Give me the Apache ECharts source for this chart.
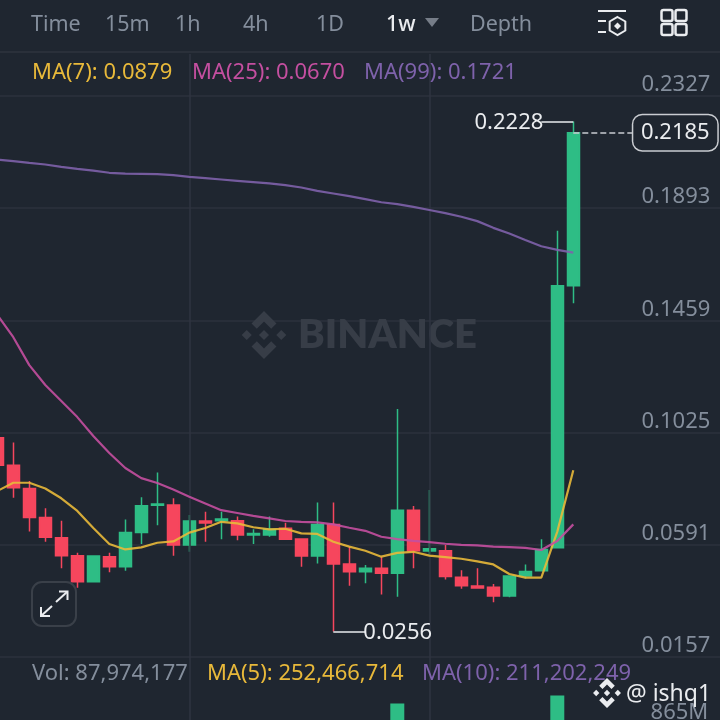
<!DOCTYPE html>
<html><head><meta charset="utf-8">
<style>html,body{margin:0;padding:0;background:#1f2630}#c{width:720px;height:720px}</style>
<script src="https://cdn.jsdelivr.net/npm/echarts@6/dist/echarts.min.js"></script>
</head><body><div id="c"></div>
<script>
const opens=[.1005,.0899,.0809,.0697,.0618,.0549,.0448,.0545,.0506,.0639,.0744,.0745,.0590,.0683,.0684,.0684,.0629,.0629,.0655,.0613,.0548,.0670,.0517,.0487,.0500,.0481,.0725,.0567,.0568,.0465,.0432,.0427,.0393,.0470,.0491,.0580,.1593];
const closes=[.0899,.0812,.0697,.0620,.0549,.0448,.0548,.0506,.0639,.0742,.0749,.0590,.0683,.0675,.0691,.0629,.0635,.0651,.0612,.0548,.0670,.0517,.0487,.0500,.0481,.0725,.0568,.0576,.0468,.0433,.0424,.0393,.0470,.0488,.0573,.1593,.2185];
const lows=[.0899,.0773,.0642,.0603,.0500,.0425,.0446,.0485,.0491,.0594,.0667,.0549,.0564,.0603,.0612,.0609,.0594,.0622,.0612,.0506,.0519,.0256,.0433,.0442,.0399,.0390,.0500,.0551,.0457,.0421,.0424,.0369,.0388,.0461,.0491,.0580,.1525];
const highs=[.1005,.0987,.0838,.0732,.0684,.0560,.0551,.0560,.0689,.0775,.0871,.0771,.0706,.0719,.0719,.0700,.0651,.0700,.0676,.0613,.0755,.0755,.0584,.0513,.0545,.1116,.0741,.0803,.0590,.0493,.0500,.0439,.0470,.0515,.0612,.1806,.2228];
const ma7=[.0799,.0831,.0831,.0809,.0771,.0722,.0656,.0594,.0573,.0581,.0599,.0604,.0638,.0656,.0680,.0674,.0659,.0651,.0653,.0635,.0633,.0603,.0584,.0568,.0545,.0560,.0564,.0549,.0543,.0537,.0527,.0515,.0478,.0464,.0464,.0642,.0879];
const ma25=[.1480,.1394,.1286,.1209,.1147,.1085,.1012,.0946,.0888,.0849,.0830,.0805,.0777,.0751,.0725,.0714,.0703,.0693,.0683,.0680,.0678,.0670,.0657,.0645,.0622,.0613,.0606,.0601,.0595,.0591,.0589,.0584,.0582,.0579,.0571,.0606,.0670];
const ma99=[.2081,.2075,.2068,.2062,.2053,.2045,.2038,.2030,.2027,.2026,.2025,.2021,.2014,.2009,.2004,.1999,.1994,.1989,.1982,.1973,.1960,.1950,.1940,.1928,.1916,.1909,.1898,.1886,.1874,.1860,.1843,.1817,.1795,.1770,.1746,.1732,.1721];
const volumes=[160,150,170,120,130,180,140,110,210,190,240,230,150,110,100,120,90,100,110,170,260,420,130,90,110,1045,340,180,200,110,90,130,170,120,160,1125,88];
const priceTicks=[.0157,.0591,.1025,.1459,.1893,.2327];
const volTicks=[865];
const categories=Array.from({length:46},(_,i)=>'W'+(i+1));
const lastPrice=.2185, highPrice=.2228, lowPrice=.0256;

const UP='#2ebd85',DOWN='#f6465d',BG='#1f2630',GRID='#2c323c',VLINE='#2f3540',GRAY='#848e9c',FONT='"Noto Sans"';
const YEL='#e8b93a',PINK='#c44fa0',PUR='#7e62ab',WHITE='#eaecef';
const LEFT=-10.7,WIDTH=736;

function txt(t,x,y,fill,size,extra){return Object.assign({type:'text',x,y,silent:true,z:50,style:{text:t,fill,font:(extra&&extra.weight||'400')+' '+size+'px '+FONT,textVerticalAlign:'middle',verticalAlign:'middle'}})}
function logo(cx,cy,s,color){
  const P=a=>({type:'polygon',silent:true,z:1,shape:{points:a.map(p=>[cx+p[0]*s,cy+p[1]*s])},style:{fill:color}});
  const d=(x,y,r)=>P([[x,y-r],[x+r,y],[x,y+r],[x-r,y]]);
  return [d(0,0,.21),d(-.72,0,.21),d(.72,0,.21),
    P([[-.52,-.48],[0,-1],[.52,-.48],[.3,-.26],[0,-.56],[-.3,-.26]]),
    P([[-.52,.48],[0,1],[.52,.48],[.3,.26],[0,.56],[-.3,.26]])];
}
const hex=(cx,cy,r)=>[[cx,cy-r],[cx+r*.87,cy-r/2],[cx+r*.87,cy+r/2],[cx,cy+r],[cx-r*.87,cy+r/2],[cx-r*.87,cy-r/2]];
const stroke=(c,w)=>({fill:null,stroke:c,lineWidth:w});
const ln=(x1,y1,x2,y2,c,w)=>({type:'line',silent:true,z:50,shape:{x1,y1,x2,y2},style:{stroke:c,lineWidth:w}});
const rr=(x,y,w,h,r,c,lw)=>({type:'rect',silent:true,z:50,shape:{x,y,width:w,height:h,r},style:stroke(c,lw)});

const graphics=[
  ln(0,52,720,52,'#2a303a',2),
  txt('Time',31,25,GRAY,21.5),txt('15m',105,25,GRAY,21.5),txt('1h',175,25,GRAY,21.5),txt('4h',243,25,GRAY,21.5),
  txt('1D',316,25,GRAY,21.5),txt('1w',386,25,WHITE,21.5,{weight:'500'}),txt('Depth',470,25,GRAY,21.5),
  {type:'polygon',silent:true,z:50,shape:{points:[[425,18],[439,18],[432,27]]},style:{fill:'#767d88'}},
  txt('MA(7): 0.0879',32,73,YEL,22),txt('MA(25): 0.0670',192,73,PINK,22),txt('MA(99): 0.1721',364,73,PUR,22),
  txt('Vol: 87,974,177',32,674,GRAY,22),txt('MA(5): 252,466,714',207,674,YEL,22),txt('MA(10): 211,202,249',422,674,PUR,22),
  ln(598,11,626,11,WHITE,2),ln(598,21,606,21,WHITE,2),ln(598,32,606,32,WHITE,2),
  {type:'polygon',silent:true,z:50,shape:{points:hex(617.5,26,9)},style:stroke(WHITE,2)},
  {type:'polygon',silent:true,z:50,shape:{points:[[617.5,22.5],[621,26],[617.5,29.5],[614,26]]},style:{fill:WHITE}},
  rr(661.5,10,11,11,2,WHITE,2.5),rr(675.5,10,11,11,2,WHITE,2.5),rr(661.5,24,11,11,2,WHITE,2.5),rr(675.5,24,11,11,2,WHITE,2.5),
  rr(32,582,44,44,10,'#3a4049',2),
  ln(56,602,67,592,WHITE,2),{type:'polyline',silent:true,z:50,shape:{points:[[59,591.5],[67.5,591.5],[67.5,600]]},style:stroke(WHITE,2)},
  ln(52,606,41,616,WHITE,2),{type:'polyline',silent:true,z:50,shape:{points:[[41,607],[41,616],[50,616]]},style:stroke(WHITE,2)},
  {type:'text',x:298,y:335,silent:true,z:1,style:{text:'BINANCE',fill:'#373d47',font:'800 40px Lato',verticalAlign:'middle',textVerticalAlign:'middle',letterSpacing:2}},
  ...logo(264,335,24,'#373d47'),
  ...logo(607,693,15,WHITE).map(e=>(e.z=60,e)),
  {type:'text',x:626,y:694,silent:true,z:60,style:{text:'@ ishq1',fill:WHITE,font:'400 23px '+FONT,verticalAlign:'middle',textVerticalAlign:'middle'}}
];

const line=(name,data,color)=>({name,type:'line',data,xAxisIndex:0,yAxisIndex:0,symbol:'none',smooth:false,silent:true,z:5,
  lineStyle:{color,width:2.2,opacity:.9}});

const option={
  animation:false,backgroundColor:BG,
  grid:[
    {left:LEFT,width:WIDTH,top:96,height:561,outerBoundsMode:'none'},
    {left:LEFT,width:WIDTH,top:657,height:151,outerBoundsMode:'none'},
    {left:LEFT,width:WIDTH,top:54,height:666,outerBoundsMode:'none'}
  ],
  xAxis:[0,1,2].map(i=>({type:'category',gridIndex:i,data:categories,boundaryGap:true,axisLine:{show:false},axisTick:{show:false},axisLabel:{show:false},splitLine:{show:false}})),
  yAxis:[
    {type:'value',gridIndex:0,position:'right',min:.0157,max:.2327,
      axisLine:{show:false},axisTick:{show:false,customValues:priceTicks},
      splitLine:{show:true,lineStyle:{color:GRID,width:1.5}},
      axisLabel:{inside:true,customValues:priceTicks,margin:15,color:GRAY,fontFamily:'Noto Sans',fontSize:22,verticalAlign:'bottom',lineHeight:22,
        showMinLabel:true,showMaxLabel:true,formatter:v=>v.toFixed(4)}},
    {type:'value',gridIndex:1,position:'right',min:0,max:1510,
      axisLine:{show:false},axisTick:{show:false,customValues:volTicks},splitLine:{show:false},
      axisLabel:{inside:true,customValues:volTicks,margin:17,color:GRAY,fontFamily:'Noto Sans',fontSize:22,verticalAlign:'bottom',lineHeight:17,formatter:v=>v+'M'}},
    {type:'value',gridIndex:2,min:0,max:1,show:false}
  ],
  graphic:graphics,
  series:[
    {type:'line',xAxisIndex:2,yAxisIndex:2,data:categories.map(()=>null),symbol:'none',silent:true,z:0,
      markLine:{silent:true,symbol:'none',label:{show:false},animation:false,lineStyle:{color:VLINE,width:1.5,type:'solid'},
        data:[{xAxis:categories[12]},{xAxis:categories[27]}]}},
    {type:'candlestick',xAxisIndex:0,yAxisIndex:0,barWidth:13,z:3,silent:true,clip:false,
      data:opens.map((o,i)=>[o,closes[i],lows[i],highs[i]]),
      itemStyle:{color:UP,color0:DOWN,borderColor:UP,borderColor0:DOWN,borderWidth:1.5},
      markLine:{silent:true,symbol:'none',animation:false,label:{show:false},
        data:[
          [{coord:[34,highPrice],lineStyle:{color:WHITE,width:1.5,type:'solid'}},{coord:[36,highPrice]}],
          [{coord:[21,lowPrice],lineStyle:{color:WHITE,width:1.5,type:'solid'}},{coord:[23,lowPrice]}],
          [{coord:[36,lastPrice],lineStyle:{color:'#c9ccd1',width:1.5,type:'dashed'}},{coord:[40,lastPrice]}]
        ]},
      markPoint:{silent:true,symbol:'rect',symbolSize:0,animation:false,
        data:[
          {coord:[34,highPrice],label:{show:true,position:'left',distance:0,offset:[2,1],formatter:highPrice.toFixed(4),color:WHITE,fontFamily:'Noto Sans',fontSize:22}},
          {coord:[23,lowPrice],label:{show:true,position:'right',distance:0,offset:[-2,1],formatter:lowPrice.toFixed(4),color:WHITE,fontFamily:'Noto Sans',fontSize:22}},
          {coord:[42,lastPrice],label:{show:true,position:'inside',offset:[6,0],formatter:lastPrice.toFixed(4),color:WHITE,fontFamily:'Noto Sans',fontSize:22,
            backgroundColor:BG,borderColor:'#c9ccd1',borderWidth:1.5,borderRadius:9,width:84,height:35,lineHeight:35,align:'center',verticalAlign:'middle'}}
        ]}},
    line('MA7',ma7,YEL),line('MA25',ma25,PINK),line('MA99',ma99,PUR),
    {type:'bar',xAxisIndex:1,yAxisIndex:1,barWidth:14,silent:true,z:2,
      data:volumes.map((v,i)=>({value:v,itemStyle:{color:closes[i]>=opens[i]?UP:DOWN}}))}
  ]
};
echarts.init(document.getElementById('c'),null,{renderer:'canvas'}).setOption(option);
</script></body></html>
